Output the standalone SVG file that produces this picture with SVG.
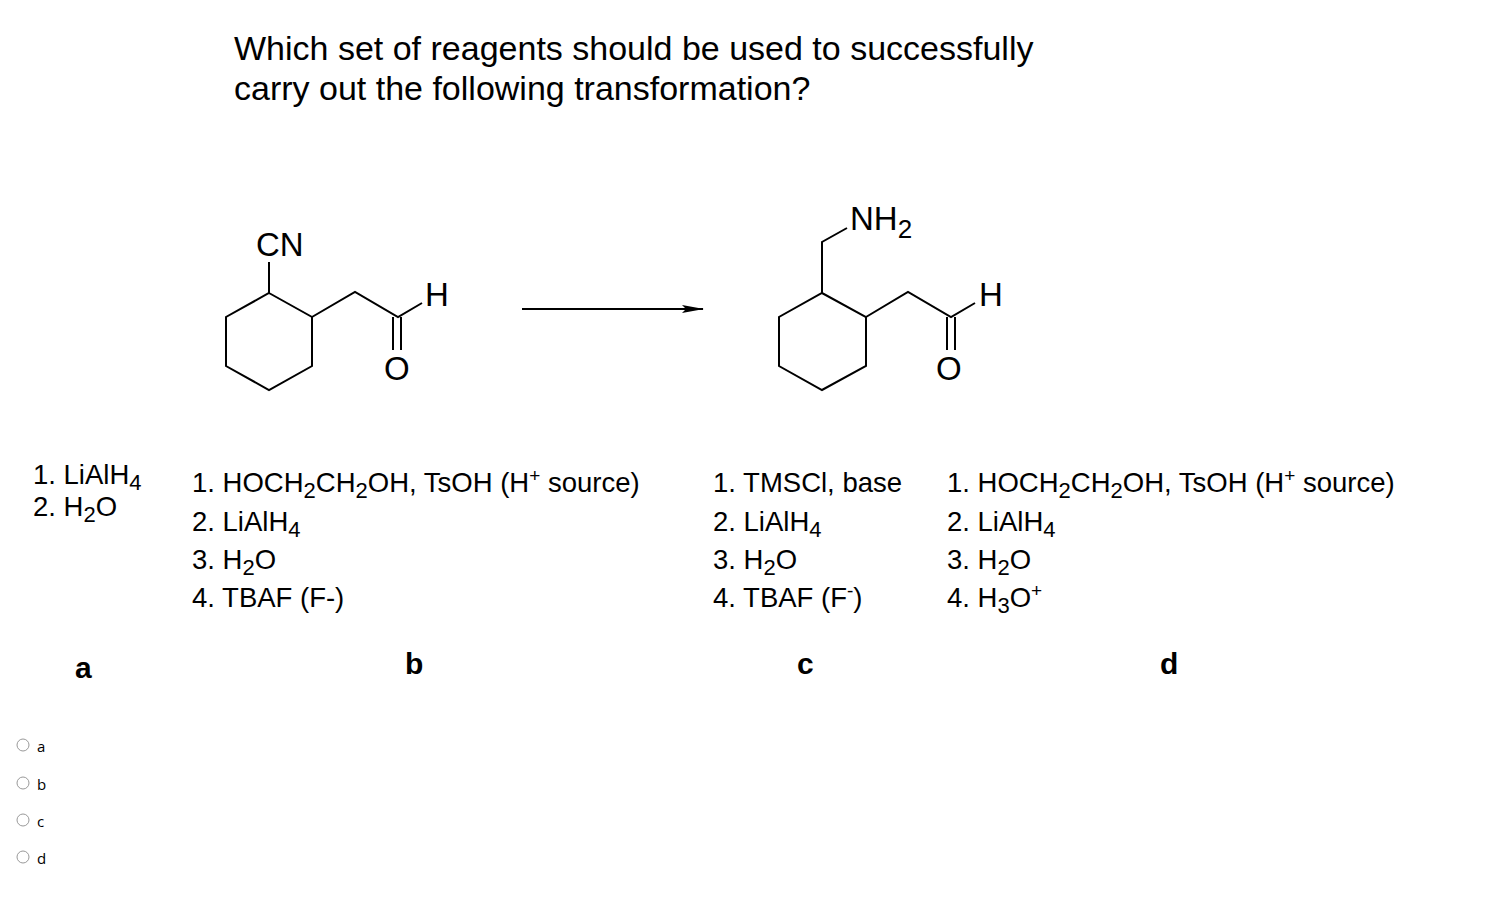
<svg xmlns="http://www.w3.org/2000/svg" width="1502" height="901" viewBox="0 0 1502 901">
<style>
text{font-family:"Liberation Sans",Arial,sans-serif;fill:#000}
.t{font-size:34px}
.r{font-size:27.5px}
.a{font-size:33px}
.l{font-size:30px;font-weight:bold}
.o{font-size:15px;font-family:"Open Sans","Liberation Sans",sans-serif}
.b{stroke:#000;stroke-width:2;fill:none}
.rad{fill:#fff;stroke:#999;stroke-width:1}
</style>
<defs><marker id="ah" markerWidth="22" markerHeight="8" refX="21" refY="4" orient="auto" markerUnits="userSpaceOnUse"><path d="M0,0 L22,4 L0,8 L4,4z" fill="#000"/></marker></defs>
<g id="title"><text class="t" x="234" y="60">Which set of reagents should be used to successfully</text><text class="t" x="234" y="100">carry out the following transformation?</text></g>
<g id="reactant">
<path class="b" d="M269,293 L312,317 L312,366 L269,390 L226,366 L226,317 Z M269,293 V262 M312,317 L355,292 L398,317 L422,303 M393,317 V350 M401,317 V350"/>
<text class="a" x="256" y="256">CN</text><text class="a" x="425" y="306">H</text><text class="a" x="384" y="380">O</text>
</g>
<g id="product">
<path class="b" d="M822,293 L866,317 L866,366 L822,390 L779,366 L779,317 Z M822,293 V242 L847,228 M866,317 L908,292 L951,317 L975,303 M947,317 V350 M955,317 V350"/>
<text class="a" x="850" y="230">NH<tspan font-size="26" dy="8">2</tspan></text><text class="a" x="979" y="306">H</text><text class="a" x="936" y="380">O</text>
</g>
<g id="connectors"><line class="b" x1="522" y1="309" x2="703" y2="309" marker-end="url(#ah)"/></g>
<g id="optA"><text class="r" x="33" y="484">1. LiAlH<tspan font-size="22" dy="6">4</tspan></text><text class="r" x="33" y="516">2. H<tspan font-size="22" dy="6">2</tspan><tspan dy="-6">O</tspan></text><text class="l" x="75" y="678">a</text></g>
<g id="optB"><text class="r" x="192" y="492">1. HOCH<tspan font-size="22" dy="6">2</tspan><tspan dy="-6">CH</tspan><tspan font-size="22" dy="6">2</tspan><tspan dy="-6">OH, TsOH (H</tspan><tspan font-size="19" dy="-10">+</tspan><tspan dy="10"> source)</tspan></text>
<text class="r" x="192" y="531">2. LiAlH<tspan font-size="22" dy="6">4</tspan></text><text class="r" x="192" y="569">3. H<tspan font-size="22" dy="6">2</tspan><tspan dy="-6">O</tspan></text><text class="r" x="192" y="607">4. TBAF (F-)</text><text class="l" x="405" y="674">b</text></g>
<g id="optC"><text class="r" x="713" y="492">1. TMSCl, base</text><text class="r" x="713" y="531">2. LiAlH<tspan font-size="22" dy="6">4</tspan></text><text class="r" x="713" y="569">3. H<tspan font-size="22" dy="6">2</tspan><tspan dy="-6">O</tspan></text><text class="r" x="713" y="607">4. TBAF (F<tspan font-size="19" dy="-10">-</tspan><tspan dy="10">)</tspan></text><text class="l" x="797" y="674">c</text></g>
<g id="optD"><text class="r" x="947" y="492">1. HOCH<tspan font-size="22" dy="6">2</tspan><tspan dy="-6">CH</tspan><tspan font-size="22" dy="6">2</tspan><tspan dy="-6">OH, TsOH (H</tspan><tspan font-size="19" dy="-10">+</tspan><tspan dy="10"> source)</tspan></text>
<text class="r" x="947" y="531">2. LiAlH<tspan font-size="22" dy="6">4</tspan></text><text class="r" x="947" y="569">3. H<tspan font-size="22" dy="6">2</tspan><tspan dy="-6">O</tspan></text><text class="r" x="947" y="607">4. H<tspan font-size="22" dy="6">3</tspan><tspan dy="-6">O</tspan><tspan font-size="19" dy="-10">+</tspan></text><text class="l" x="1160" y="674">d</text></g>
<g id="radios">
<circle class="rad" cx="23" cy="745" r="6"/><text class="o" x="37" y="752">a</text>
<circle class="rad" cx="23" cy="783" r="6"/><text class="o" x="37" y="790">b</text>
<circle class="rad" cx="23" cy="820" r="6"/><text class="o" x="37" y="827">c</text>
<circle class="rad" cx="23" cy="857" r="6"/><text class="o" x="37" y="864">d</text>
</g>
</svg>
